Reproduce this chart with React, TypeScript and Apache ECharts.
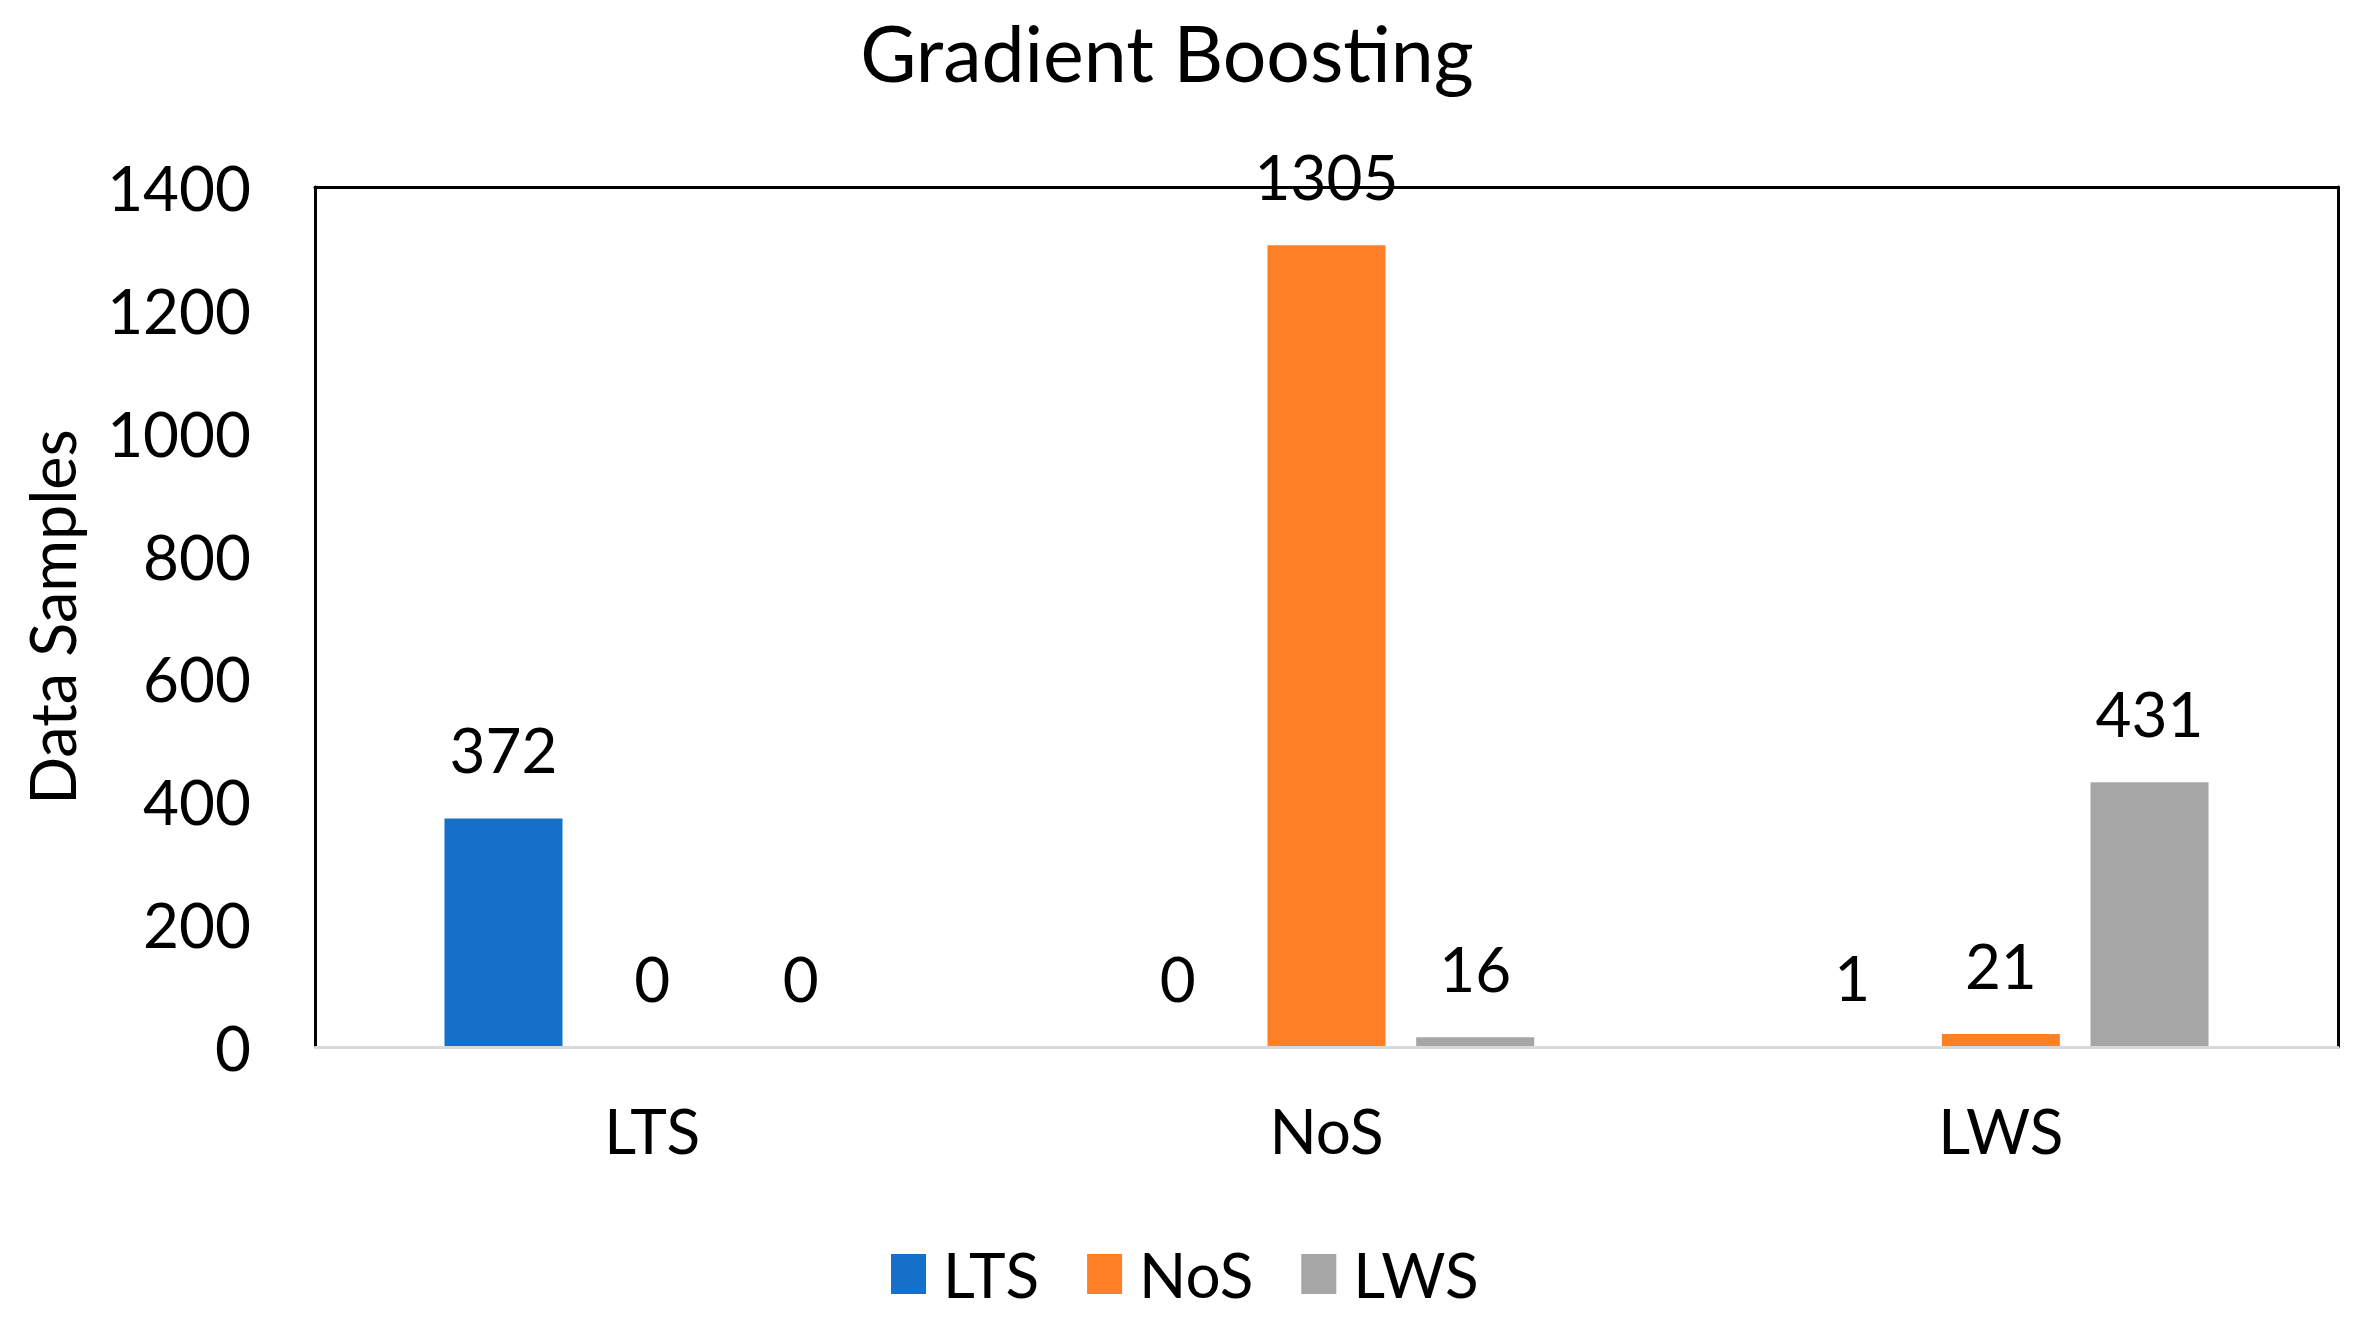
import React, { useEffect, useRef } from "react";
import * as echarts from "echarts";

const categories = ["LTS", "NoS", "LWS"];
const seriesNames = ["LTS", "NoS", "LWS"];
const ltsValues = [372, 0, 1];
const nosValues = [0, 1305, 21];
const lwsValues = [0, 16, 431];
const seriesColors = ["#1570CA", "#FF7F27", "#A6A6A6"];
const yTicks = [0, 200, 400, 600, 800, 1000, 1200, 1400];

const FONT = "Lato";

export default function App() {
  const ref = useRef<HTMLDivElement>(null);
  useEffect(() => {
    if (!ref.current) return;
    const chart = echarts.init(ref.current, undefined, { renderer: "svg" });
    const values = [ltsValues, nosValues, lwsValues];
    const yMin = yTicks[0];
    const yMax = yTicks[yTicks.length - 1];
    const yInterval = yTicks[1] - yTicks[0];
    chart.setOption({
      animation: false,
      backgroundColor: "#ffffff",
      textStyle: { fontFamily: FONT, color: "#000" },
      title: {
        text: "Gradient Boosting",
        left: 1162,
        textAlign: "center",
        top: 8,
        textStyle: { fontFamily: FONT, fontSize: 77, fontWeight: "normal", color: "#000" },
      },
      legend: {
        data: seriesNames,
        left: 886,
        top: 1238,
        icon: "rect",
        itemWidth: 35,
        itemHeight: 40,
        itemGap: 48,
        textStyle: { fontFamily: FONT, fontSize: 62, color: "#000", padding: [0, 0, 0, 12] },
      },
      grid: { left: 315, right: 37, top: 187, bottom: 288, containLabel: false },
      xAxis: [
        {
          type: "category",
          data: categories,
          position: "bottom",
          axisLine: { show: true, onZero: false, lineStyle: { color: "#D9D9D9", width: 3 } },
          axisTick: { show: false },
          axisLabel: { fontFamily: FONT, fontSize: 62, color: "#000", margin: 52 },
          splitLine: { show: false },
          z: 3,
        },
        {
          type: "category",
          data: categories,
          position: "top",
          axisLine: { show: true, onZero: false, lineStyle: { color: "#000", width: 3 } },
          axisTick: { show: false },
          axisLabel: { show: false },
          splitLine: { show: false },
        },
      ],
      yAxis: [
        {
          type: "value",
          min: yMin,
          max: yMax,
          interval: yInterval,
          name: "Data Samples",
          nameLocation: "middle",
          nameGap: 232,
          nameTextStyle: { fontFamily: FONT, fontSize: 63, color: "#000" },
          axisLine: { show: true, onZero: false, lineStyle: { color: "#000", width: 3 } },
          axisTick: { show: false },
          axisLabel: {
            fontFamily: FONT,
            fontSize: 62,
            color: "#000",
            margin: 64,
            formatter: (v: number) => String(v),
          },
          splitLine: { show: false },
        },
        {
          type: "value",
          min: yMin,
          max: yMax,
          interval: yInterval,
          position: "right",
          axisLine: { show: true, onZero: false, lineStyle: { color: "#000", width: 3 } },
          axisTick: { show: false },
          axisLabel: { show: false },
          splitLine: { show: false },
        },
      ],
      series: [
        ...seriesNames.map((name, i) => ({
          name,
          type: "bar",
          xAxisIndex: 0,
          yAxisIndex: 0,
          data: values[i],
          barWidth: 118,
          barGap: "26%",
          itemStyle: { color: seriesColors[i] },
          label: {
            show: true,
            position: "top",
            distance: 38,
            fontFamily: FONT,
            fontSize: 62,
            color: "#000",
          },
        })),
        {
          name: "__top",
          type: "bar",
          xAxisIndex: 1,
          yAxisIndex: 1,
          data: [],
          silent: true,
        },
      ],
    });
    return () => chart.dispose();
  }, []);
  return (
    <div
      ref={ref}
      style={{ position: "absolute", left: 0, top: 0, width: 2375, height: 1335 }}
    />
  );
}
